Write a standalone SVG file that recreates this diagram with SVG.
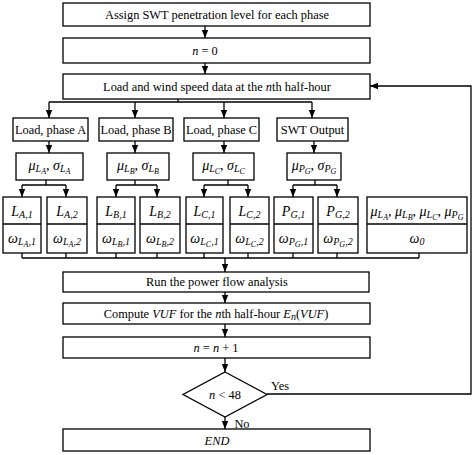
<svg xmlns="http://www.w3.org/2000/svg" width="474" height="455" viewBox="0 0 474 455">
<style>
.b{fill:#fff;stroke:#000;stroke-width:1.3}
.t{font-family:"Liberation Serif","Times New Roman",serif;font-size:12.4px;fill:#000;text-anchor:middle}
.m{font-family:"Liberation Serif","Times New Roman",serif;font-size:14px;fill:#000;text-anchor:middle;font-style:italic}
.i{font-style:italic}
.s{font-size:10px;font-style:italic}
.ss{font-size:8px;font-style:italic}
.c{fill:none;stroke:#000;stroke-width:1.3}
.a{fill:none;stroke:#000;stroke-width:1.3;marker-end:url(#ah)}
</style>
<defs>
<marker id="ah" markerWidth="8" markerHeight="8" viewBox="0 0 8 8" refX="8" refY="4" orient="auto" markerUnits="userSpaceOnUse">
<path d="M0,0.8 L8,4 L0,7.2 z" fill="#000"/>
</marker>
</defs>
<rect width="474" height="455" fill="#fff"/>

<g id="connectors">
<path class="a" d="M205,26 V38"/>
<path class="a" d="M205,63 V74"/>
<path class="c" d="M178,99 V102 M49,102 H312"/>
<path class="a" d="M49,102 V118"/>
<path class="a" d="M135,102 V118"/>
<path class="a" d="M224,102 V118"/>
<path class="a" d="M312,102 V118"/>
<path class="a" d="M49,141 V153"/>
<path class="a" d="M135,141 V153"/>
<path class="a" d="M224,141 V153"/>
<path class="a" d="M314,141 V153"/>
<path class="c" d="M46,180 V185 M22,185 H66 M135,180 V185 M116,185 H157 M228,180 V185 M204,185 H248 M315,180 V185 M293,185 H337"/>
<path class="a" d="M22,185 V197"/>
<path class="a" d="M66,185 V197"/>
<path class="a" d="M116,185 V197"/>
<path class="a" d="M157,185 V197"/>
<path class="a" d="M204,185 V197"/>
<path class="a" d="M248,185 V197"/>
<path class="a" d="M293,185 V197"/>
<path class="a" d="M337,185 V197"/>
<path class="c" d="M22,253 V258 M66,253 V258 M116,253 V258 M157,253 V258 M204,253 V258 M248,253 V258 M293,253 V258 M337,253 V258 M419,253 V258 M22,258 H419"/>
<path class="a" d="M225,258 V272"/>
<path class="a" d="M225,292 V303"/>
<path class="a" d="M225,324 V337"/>
<path class="a" d="M225,358 V372"/>
<path class="a" d="M225,417 V429"/>
<path class="a" d="M267,394 H471 V86 H370"/>
<text class="t" x="280" y="390" font-size="13">Yes</text>
<text class="t" x="242" y="428" font-size="13">No</text>
</g>

<g id="assign"><rect class="b" x="63" y="3" width="307" height="23"/>
<text class="t" x="217" y="19">Assign SWT penetration level for each phase</text></g>
<g id="n0"><rect class="b" x="63" y="38" width="307" height="25"/>
<text class="t" x="205" y="55"><tspan class="i">n</tspan> = 0</text></g>
<g id="load"><rect class="b" x="63" y="74" width="307" height="25"/>
<text class="t" x="217" y="91">Load and wind speed data at the <tspan class="i">n</tspan>th half-hour</text></g>

<g id="loadA"><rect class="b" x="13" y="118" width="75" height="23"/><text class="t" x="50.5" y="134">Load, phase A</text></g>
<g id="loadB"><rect class="b" x="99" y="118" width="74" height="23"/><text class="t" x="136" y="134">Load, phase B</text></g>
<g id="loadC"><rect class="b" x="184" y="118" width="75" height="23"/><text class="t" x="221.5" y="134">Load, phase C</text></g>
<g id="swt"><rect class="b" x="277" y="118" width="71" height="23"/><text class="t" x="312.5" y="134">SWT Output</text></g>

<g id="muA"><rect class="b" x="16" y="153" width="67" height="27"/>
<text class="m" x="49.5" y="170">μ<tspan class="s" dy="2">L</tspan><tspan class="ss" dy="2">A</tspan><tspan dy="-4" font-style="normal">, </tspan>σ<tspan class="s" dy="2">L</tspan><tspan class="ss" dy="2">A</tspan></text></g>
<g id="muB"><rect class="b" x="107" y="153" width="62" height="27"/>
<text class="m" x="138" y="170">μ<tspan class="s" dy="2">L</tspan><tspan class="ss" dy="2">B</tspan><tspan dy="-4" font-style="normal">, </tspan>σ<tspan class="s" dy="2">L</tspan><tspan class="ss" dy="2">B</tspan></text></g>
<g id="muC"><rect class="b" x="193" y="153" width="61" height="27"/>
<text class="m" x="223.5" y="170">μ<tspan class="s" dy="2">L</tspan><tspan class="ss" dy="2">C</tspan><tspan dy="-4" font-style="normal">, </tspan>σ<tspan class="s" dy="2">L</tspan><tspan class="ss" dy="2">C</tspan></text></g>
<g id="muP"><rect class="b" x="287" y="153" width="54" height="27"/>
<text class="m" x="314" y="170">μ<tspan class="s" dy="2">P</tspan><tspan class="ss" dy="2">G</tspan><tspan dy="-4" font-style="normal">, </tspan>σ<tspan class="s" dy="2">P</tspan><tspan class="ss" dy="2">G</tspan></text></g>

<g id="LA1"><rect class="b" x="3" y="197" width="38" height="56"/><path class="c" d="M3,224 H41"/>
<text class="m" x="22" y="216">L<tspan class="s" dy="2">A,1</tspan></text>
<text class="m" x="22" y="243">ω<tspan class="s" dy="2">L</tspan><tspan class="ss" dy="2">A</tspan><tspan class="s" dy="-2">,1</tspan></text></g>
<g id="LA2"><rect class="b" x="47" y="197" width="40" height="56"/><path class="c" d="M47,224 H87"/>
<text class="m" x="67" y="216">L<tspan class="s" dy="2">A,2</tspan></text>
<text class="m" x="67" y="243">ω<tspan class="s" dy="2">L</tspan><tspan class="ss" dy="2">A</tspan><tspan class="s" dy="-2">,2</tspan></text></g>
<g id="LB1"><rect class="b" x="97" y="197" width="38" height="56"/><path class="c" d="M97,224 H135"/>
<text class="m" x="116" y="216">L<tspan class="s" dy="2">B,1</tspan></text>
<text class="m" x="116" y="243">ω<tspan class="s" dy="2">L</tspan><tspan class="ss" dy="2">B</tspan><tspan class="s" dy="-2">,1</tspan></text></g>
<g id="LB2"><rect class="b" x="140" y="197" width="40" height="56"/><path class="c" d="M140,224 H180"/>
<text class="m" x="160" y="216">L<tspan class="s" dy="2">B,2</tspan></text>
<text class="m" x="160" y="243">ω<tspan class="s" dy="2">L</tspan><tspan class="ss" dy="2">B</tspan><tspan class="s" dy="-2">,2</tspan></text></g>
<g id="LC1"><rect class="b" x="186" y="197" width="37" height="56"/><path class="c" d="M186,224 H223"/>
<text class="m" x="204.5" y="216">L<tspan class="s" dy="2">C,1</tspan></text>
<text class="m" x="204.5" y="243">ω<tspan class="s" dy="2">L</tspan><tspan class="ss" dy="2">C</tspan><tspan class="s" dy="-2">,1</tspan></text></g>
<g id="LC2"><rect class="b" x="230" y="197" width="39" height="56"/><path class="c" d="M230,224 H269"/>
<text class="m" x="249.5" y="216">L<tspan class="s" dy="2">C,2</tspan></text>
<text class="m" x="249.5" y="243">ω<tspan class="s" dy="2">L</tspan><tspan class="ss" dy="2">C</tspan><tspan class="s" dy="-2">,2</tspan></text></g>
<g id="PG1"><rect class="b" x="274" y="197" width="39" height="56"/><path class="c" d="M274,224 H313"/>
<text class="m" x="293.5" y="216">P<tspan class="s" dy="2">G,1</tspan></text>
<text class="m" x="293.5" y="243">ω<tspan class="s" dy="2">P</tspan><tspan class="ss" dy="2">G</tspan><tspan class="s" dy="-2">,1</tspan></text></g>
<g id="PG2"><rect class="b" x="318" y="197" width="40" height="56"/><path class="c" d="M318,224 H358"/>
<text class="m" x="338" y="216">P<tspan class="s" dy="2">G,2</tspan></text>
<text class="m" x="338" y="243">ω<tspan class="s" dy="2">P</tspan><tspan class="ss" dy="2">G</tspan><tspan class="s" dy="-2">,2</tspan></text></g>
<g id="W0"><rect class="b" x="367" y="197" width="100" height="56"/><path class="c" d="M367,224 H467"/>
<text class="m" x="417" y="216" font-size="13">μ<tspan class="s" dy="2">L</tspan><tspan class="ss" dy="2">A</tspan><tspan dy="-4" font-style="normal">, </tspan>μ<tspan class="s" dy="2">L</tspan><tspan class="ss" dy="2">B</tspan><tspan dy="-4" font-style="normal">, </tspan>μ<tspan class="s" dy="2">L</tspan><tspan class="ss" dy="2">C</tspan><tspan dy="-4" font-style="normal">, </tspan>μ<tspan class="s" dy="2">P</tspan><tspan class="ss" dy="2">G</tspan></text>
<text class="m" x="417" y="243">ω<tspan class="s" dy="2">0</tspan></text></g>

<g id="run"><rect class="b" x="63" y="272" width="306" height="20"/>
<text class="t" x="217" y="286">Run the power flow analysis</text></g>
<g id="compute"><rect class="b" x="63" y="303" width="307" height="21"/>
<text class="t" x="216" y="318">Compute <tspan class="i">VUF</tspan>  for the <tspan class="i">n</tspan>th half-hour <tspan class="i">E</tspan><tspan class="s" dy="2">n</tspan><tspan dy="-2">(</tspan><tspan class="i">VUF</tspan>)</text></g>
<g id="inc"><rect class="b" x="63" y="337" width="307" height="21"/>
<text class="t" x="216" y="352"><tspan class="i">n</tspan> = <tspan class="i">n</tspan> + 1</text></g>
<g id="decision"><path class="b" d="M225,372 L267,394.5 L225,417 L183,394.5 Z"/>
<text class="t" x="225" y="399" font-size="13"><tspan class="i">n</tspan> &lt; 48</text></g>
<g id="end"><rect class="b" x="63" y="429" width="307" height="22"/>
<text class="t i" x="217" y="445">END</text></g>
</svg>
